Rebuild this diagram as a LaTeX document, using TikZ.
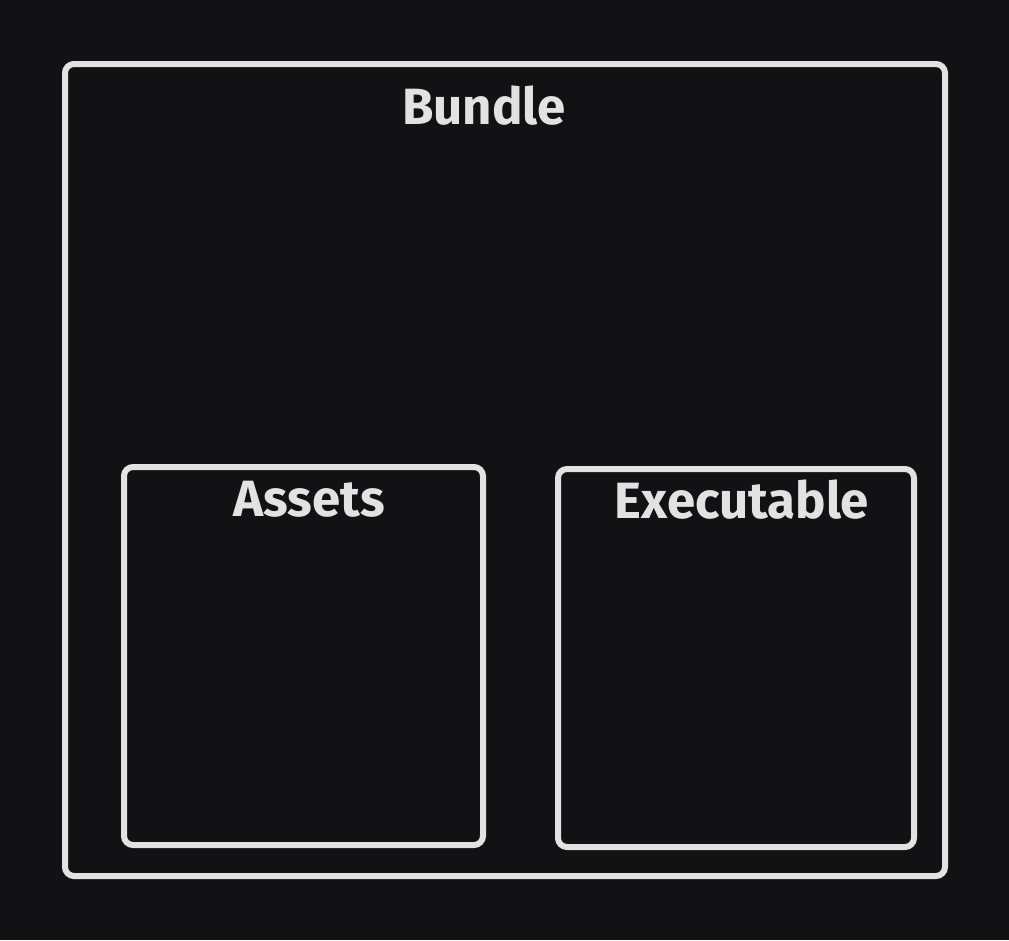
\documentclass[tikz,border=0pt]{standalone}
\usepackage{fontspec}
\setmainfont{Fira Sans}
\definecolor{bg}{HTML}{121214}
\definecolor{fg}{HTML}{E2E2E2}
\begin{document}
\begin{tikzpicture}[x=1pt,y=-1pt,
  box/.style={draw=fg,line width=6pt,rounded corners=9pt},
  lbl/.style={text=fg,font=\fontsize{51}{55}\selectfont\bfseries,inner sep=0pt,anchor=base}]
\fill[bg] (0,0) rectangle (1009,940);
\useasboundingbox (0,0) rectangle (1009,940);
\draw[box] (65,64) rectangle (945,876);
\draw[box] (124,467) rectangle (483,845);
\draw[box] (558,469) rectangle (914,847);
\node[lbl] (bundle) at (484,124) {Bundle};
\node[lbl] (assets) at (309,516) {Assets};
\node[lbl] (exec) at (742,518) {Executable};
\end{tikzpicture}
\end{document}
